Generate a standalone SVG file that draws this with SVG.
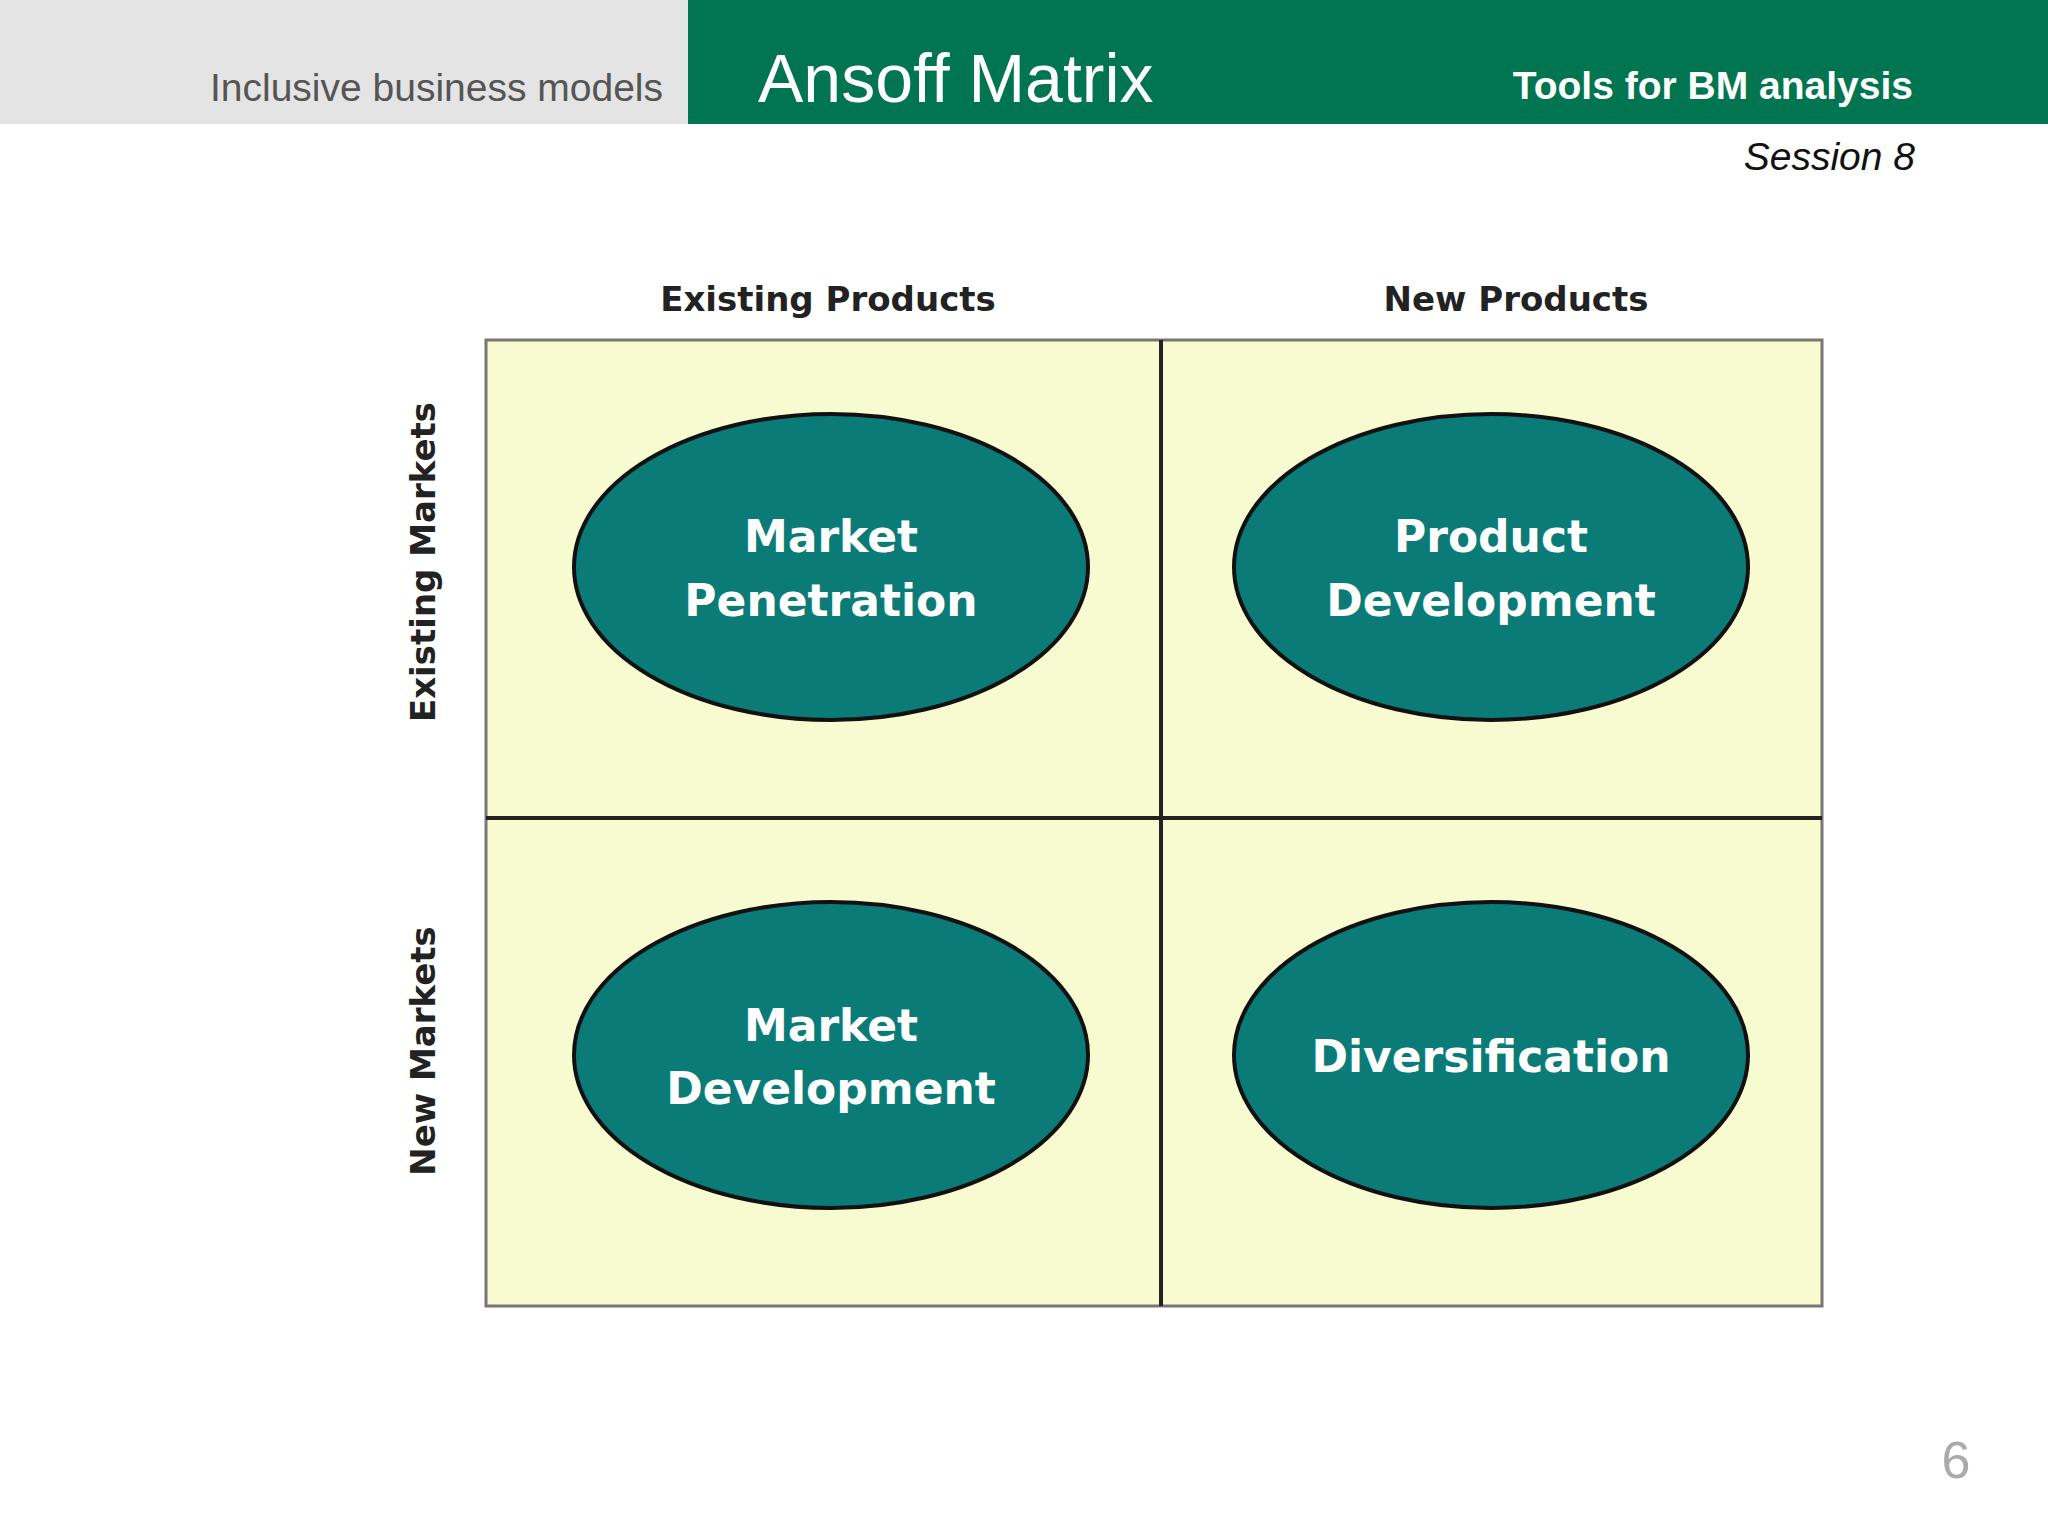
<svg xmlns="http://www.w3.org/2000/svg" width="2048" height="1536" viewBox="0 0 2048 1536">
<style>
.s{font-family:"Liberation Sans",Arial,sans-serif}
.h{font-family:"DejaVu Sans",sans-serif;font-weight:bold}
.el{fill:#0a7b77;stroke:#111;stroke-width:4}
.et{fill:#fff;font-size:44px;text-anchor:middle}
.lab{fill:#222;font-size:34px;text-anchor:middle}
</style>
<rect width="2048" height="1536" fill="#fff"/>
<rect x="0" y="0" width="688" height="124" fill="#e3e4e3"/>
<rect x="688" y="0" width="1360" height="124" fill="#007550"/>
<text class="s" x="663" y="101" font-size="39" fill="#555" text-anchor="end">Inclusive business models</text>
<text class="s" x="758" y="102" font-size="68" fill="#fff">Ansoff Matrix</text>
<text class="s" x="1913" y="99" font-size="39" font-weight="bold" fill="#fff" text-anchor="end">Tools for BM analysis</text>
<text class="s" x="1915" y="170" font-size="39" font-style="italic" fill="#111" text-anchor="end">Session 8</text>
<g id="matrix">
<rect x="486" y="340" width="1336" height="966" fill="#f8fbcf" stroke="#777" stroke-width="3"/>
<line x1="1161" y1="340" x2="1161" y2="1306" stroke="#222" stroke-width="4"/>
<line x1="486" y1="818" x2="1822" y2="818" stroke="#222" stroke-width="4"/>
</g>
<g id="labels">
<text class="h lab" x="828" y="311">Existing Products</text>
<text class="h lab" x="1516" y="311">New Products</text>
<text class="h lab" transform="translate(435,562) rotate(-90)">Existing Markets</text>
<text class="h lab" transform="translate(435,1051) rotate(-90)">New Markets</text>
</g>
<g id="mp"><ellipse class="el" cx="831" cy="567" rx="257" ry="153"/><text class="h et" x="831" y="552">Market</text><text class="h et" x="831" y="616">Penetration</text></g>
<g id="pd"><ellipse class="el" cx="1491" cy="567" rx="257" ry="153"/><text class="h et" x="1491" y="552">Product</text><text class="h et" x="1491" y="616">Development</text></g>
<g id="md"><ellipse class="el" cx="831" cy="1055" rx="257" ry="153"/><text class="h et" x="831" y="1041">Market</text><text class="h et" x="831" y="1104">Development</text></g>
<g id="dv"><ellipse class="el" cx="1491" cy="1055" rx="257" ry="153"/><text class="h et" x="1491" y="1072">Diversification</text></g>
<g id="connectors"/>
<text class="s" x="1956" y="1478" font-size="52" fill="#aaa" text-anchor="middle">6</text>
</svg>
